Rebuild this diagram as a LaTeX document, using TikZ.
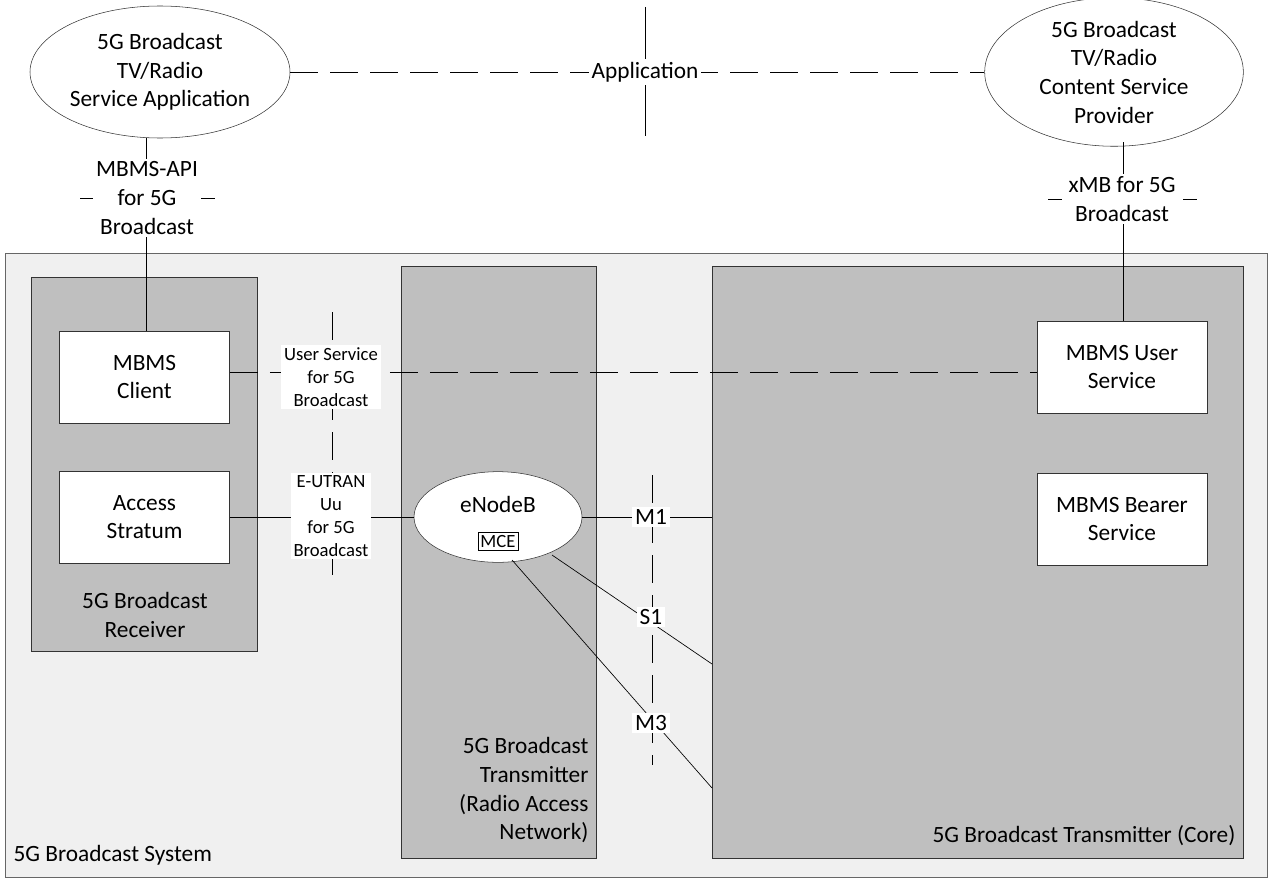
\documentclass[tikz,border=0pt]{standalone}
\usepackage{fontspec}
\setmainfont{Carlito}
\usetikzlibrary{shapes.geometric}
\begin{document}
\begin{tikzpicture}[x=0.75pt,y=-0.75pt,
  every node/.style={font=\fontsize{17.5}{21.5}\selectfont,align=center,inner sep=1pt},
  box/.style={draw=black!80,fill=white,minimum width=127.5pt,minimum height=69pt,line width=0.6pt},
  grp/.style={draw=black!80,fill=black!25,line width=0.6pt},
  ln/.style={line width=0.5pt},
  dsh/.style={line width=0.5pt,dash pattern=on 21pt off 9pt},
  lbl/.style={fill=white,inner sep=2pt},
  slbl/.style={fill=white,inner sep=2pt,font=\fontsize{14}{17.2}\selectfont}]
\useasboundingbox (0,0) rectangle (1269,881);
\draw[fill=black!6,draw=black!60,line width=0.6pt] (5,253) rectangle (1267,877);
\draw[grp] (31,277) rectangle (257,651);
\draw[grp] (401,266) rectangle (596,858);
\draw[grp] (712,266) rectangle (1243,858);
\node[box] (client) at (144.5,377) {MBMS\\Client};
\node[box] (as) at (144.5,517) {Access\\Stratum};
\node[box] (us) at (1122,367) {MBMS User\\Service};
\node[box] (bs) at (1122,519) {MBMS Bearer\\Service};
\node[ellipse,draw=black!80,fill=white,minimum width=195pt,minimum height=99pt] (app) at (160,72) {5G Broadcast\\TV/Radio\\Service Application};
\node[ellipse,draw=black!80,fill=white,minimum width=194pt,minimum height=102pt] (csp) at (1114,72) {5G Broadcast\\TV/Radio\\Content Service\\Provider};
\node[ellipse,draw=black!80,fill=white,minimum width=126pt,minimum height=68pt] (enb) at (498,517) {};
\node at (498,504) {eNodeB};
\node[draw,fill=white,font=\fontsize{14}{16}\selectfont,inner sep=2pt] (mce) at (498,541) {MCE};
% application
\draw[ln] (645,7) -- (645,136);
\draw[dsh] (app.east) -- (csp.west);
\node[lbl] at (645,72) {Application};
% MBMS-API
\draw[ln] (146,138) -- (client.north -| 146,0);
\draw[ln] (80,198) -- (94,198) (200,198) -- (215,198);
\node[lbl] at (147,198) {MBMS-API\\for 5G\\Broadcast};
\draw[ln] (1123,142) -- (us.north -| 1123,0);
\draw[ln] (1048,199) -- (1062,199) (1183,199) -- (1197,199);
\node[lbl] at (1122,199) {xMB for 5G\\Broadcast};
% user service
\coordinate (c1) at (client.east |- 0,372);
\coordinate (u1) at (us.west |- 0,372);
\draw[dsh] (c1) -- (u1);
\draw[dsh] (332,312) -- (332,575);
\node[slbl] at (331,377) {User Service\\for 5G\\Broadcast};
\draw[ln] (as.east) -- (enb.west);
\node[slbl] at (331,516) {E-UTRAN\\Uu\\for 5G\\Broadcast};
% M interfaces
\draw[dsh] (652,475) -- (652,765);
\draw[ln] (enb.east) -- (712,517);
\draw[ln] (552,555) -- (712,664);
\draw[ln] (512,560) -- (712,788);
\node[lbl] at (651,517) {M1};
\node[lbl] at (651,617) {S1};
\node[lbl] at (651,723) {M3};
% group labels
\node at (145,615) {5G Broadcast\\Receiver};
\node[align=right,anchor=north east] at (590,736) {5G Broadcast\\Transmitter\\(Radio Access\\Network)};
\node[anchor=east] at (1237,836) {5G Broadcast Transmitter (Core)};
\node[anchor=west] at (12,855) {5G Broadcast System};
\end{tikzpicture}
\end{document}
